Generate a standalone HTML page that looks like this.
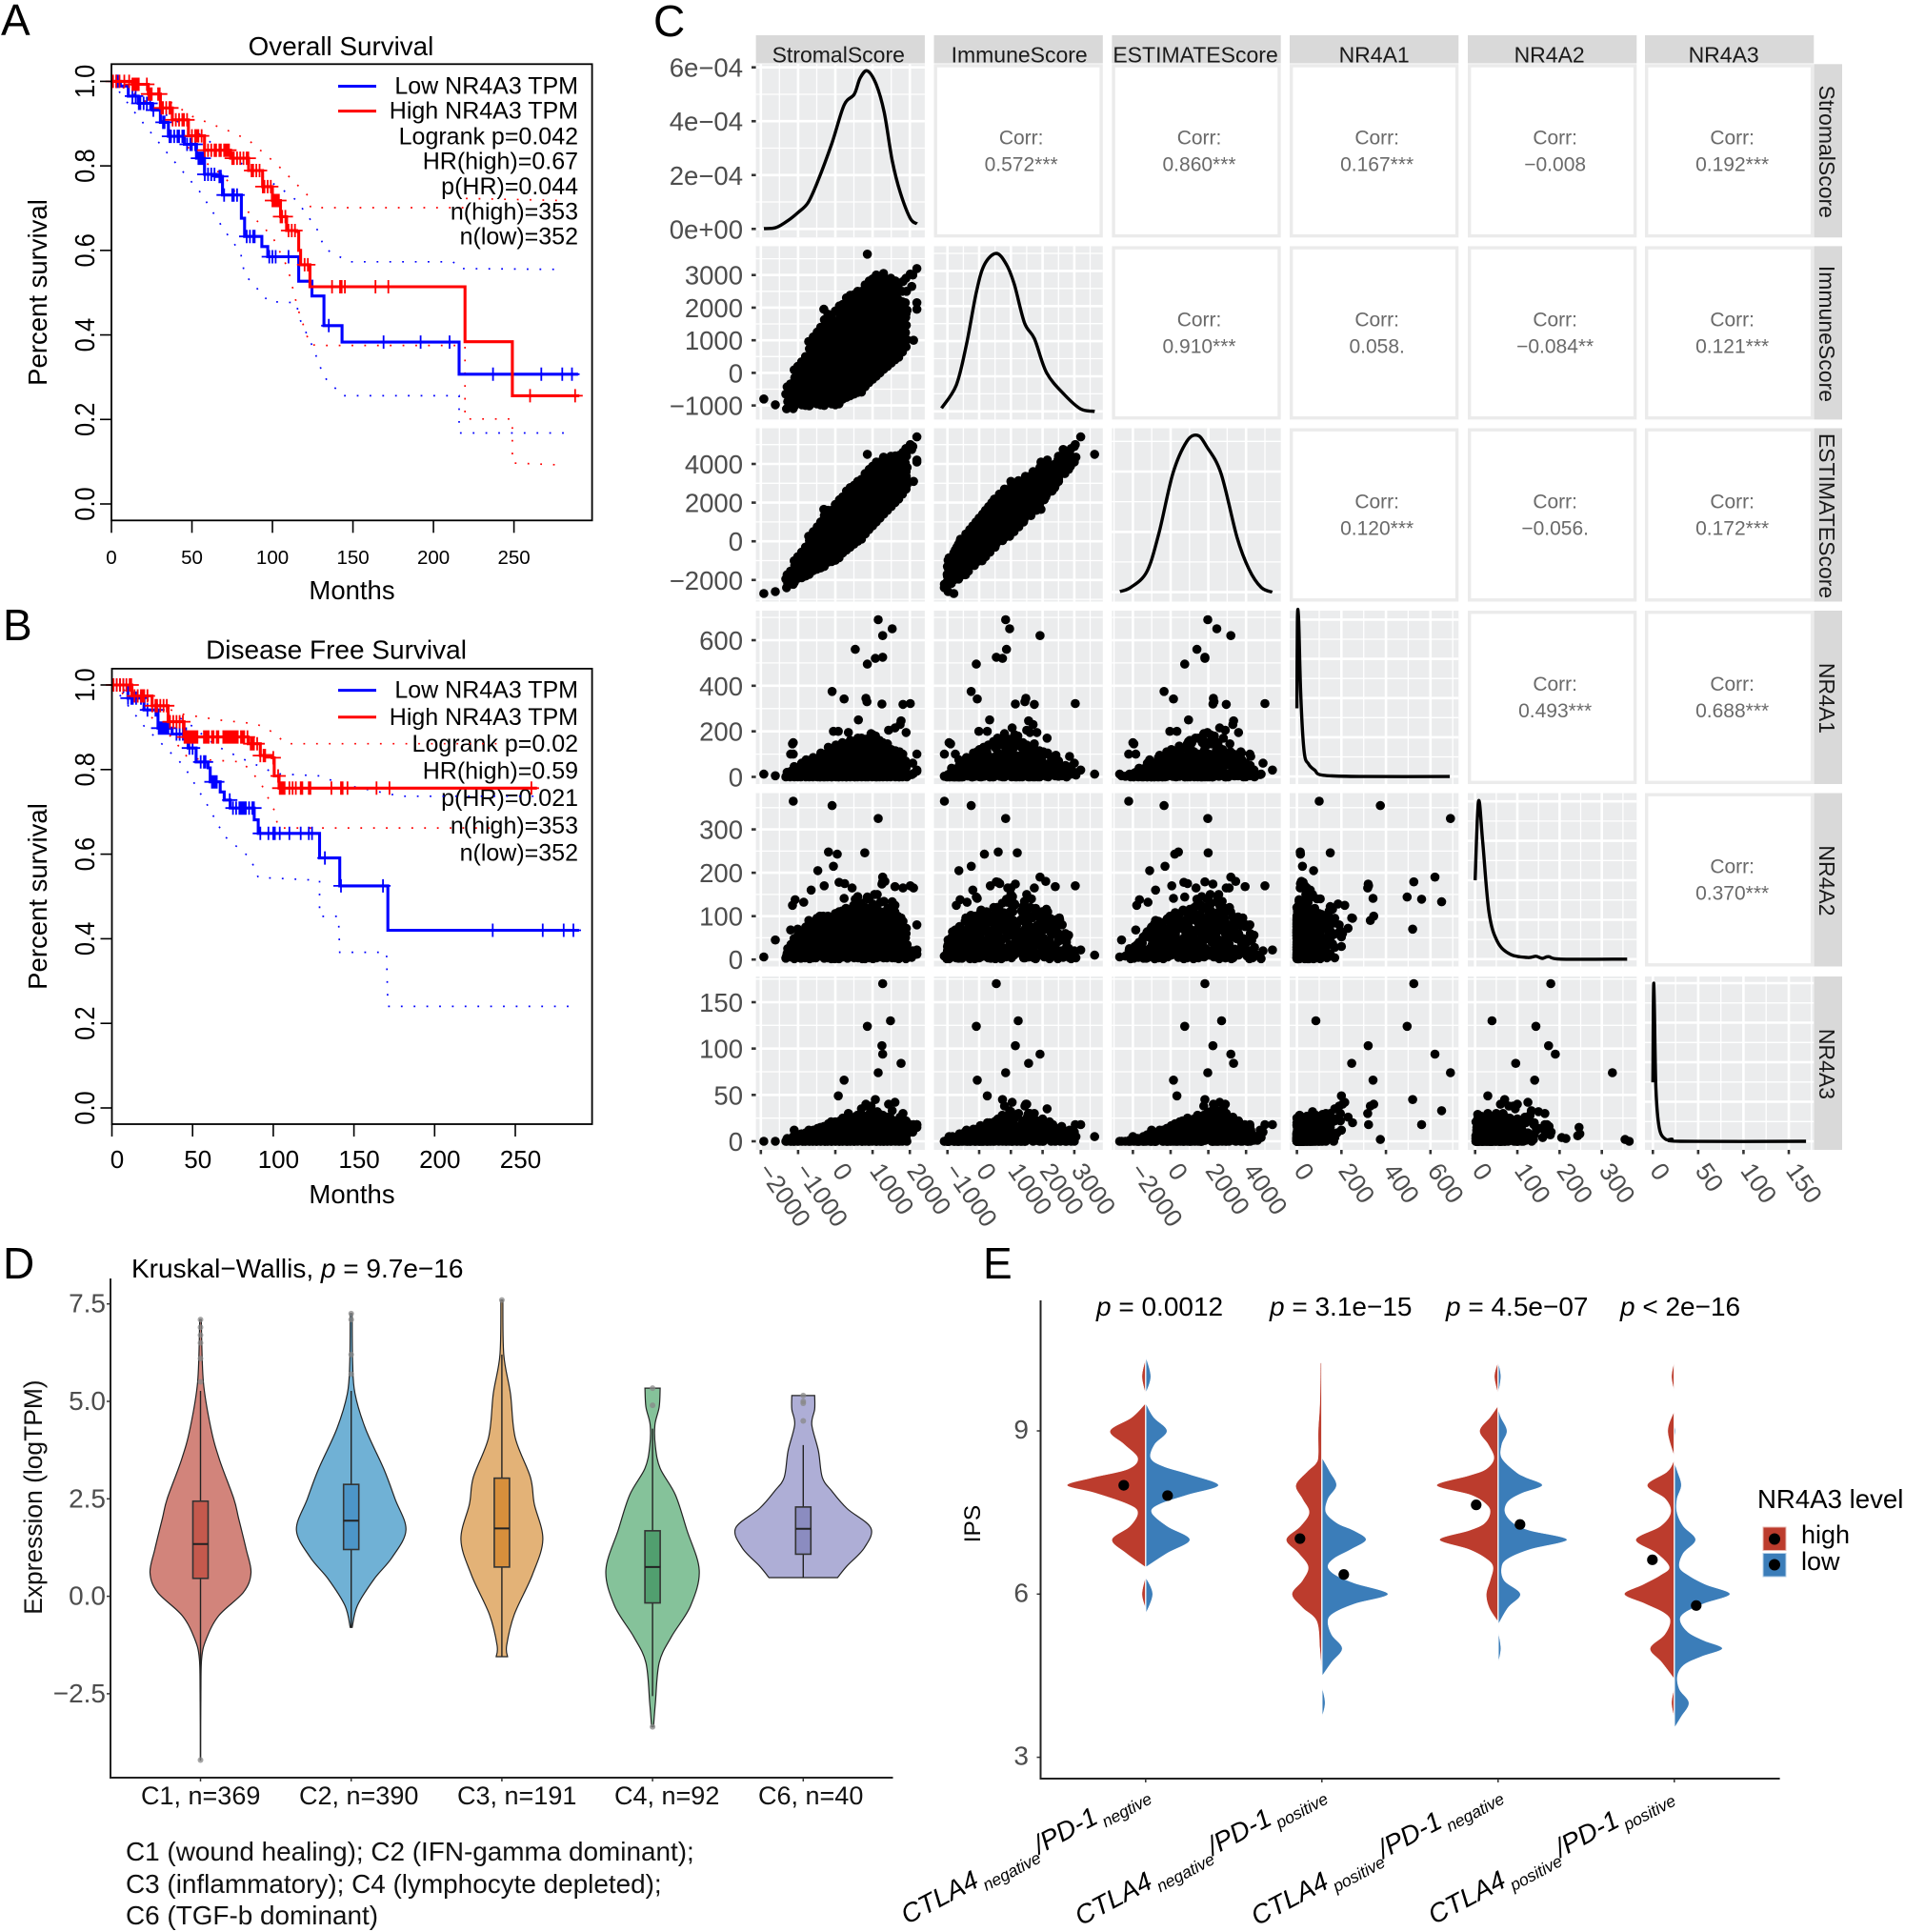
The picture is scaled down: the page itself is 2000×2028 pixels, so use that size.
<!DOCTYPE html>
<html lang="en">
<head>
<meta charset="utf-8">
<title>NR4A3 multi-panel figure</title>
<style>
html,body{margin:0;padding:0;background:#fff;}
svg{display:block;}
text{font-family:"Liberation Sans",sans-serif;}
</style>
</head>
<body>
<svg id="fig" xmlns="http://www.w3.org/2000/svg" width="2000" height="2028" viewBox="0 0 2000 2028">
<rect x="0" y="0" width="2000" height="2028" fill="#fff"/>
<g font-size="46" fill="#000">
<text x="1" y="37">A</text>
<text x="3" y="672">B</text>
<text x="686" y="38">C</text>
<text x="3" y="1342">D</text>
<text x="1032" y="1342">E</text>
</g>

<g id="panelA">
<text x="358" y="58" font-size="27.8" text-anchor="middle">Overall Survival</text>
<text transform="translate(49,307) rotate(-90)" font-size="27.5" text-anchor="middle">Percent survival</text>
<text x="369.5" y="629" font-size="27.5" text-anchor="middle">Months</text>
<g font-size="25" text-anchor="end">
<text x="607" y="98.5">Low NR4A3 TPM</text>
<text x="607" y="124.6">High NR4A3 TPM</text>
<text x="607" y="151.5">Logrank p=0.042</text>
<text x="607" y="177.6">HR(high)=0.67</text>
<text x="607" y="204">p(HR)=0.044</text>
<text x="607" y="230.6">n(high)=353</text>
<text x="607" y="256.7">n(low)=352</text>
</g>
<line x1="355" x2="395" y1="90.5" y2="90.5" stroke="#0000ff" stroke-width="3"/>
<line x1="355" x2="395" y1="116.6" y2="116.6" stroke="#ff0000" stroke-width="3"/>
</g>

<g id="panelB">
<text x="353" y="691.5" font-size="28" text-anchor="middle">Disease Free Survival</text>
<text transform="translate(49,941) rotate(-90)" font-size="27.5" text-anchor="middle">Percent survival</text>
<text x="369.5" y="1263" font-size="27.5" text-anchor="middle">Months</text>
<g font-size="25" text-anchor="end">
<text x="607" y="732.6">Low NR4A3 TPM</text>
<text x="607" y="760.8">High NR4A3 TPM</text>
<text x="607" y="789">Logrank p=0.02</text>
<text x="607" y="817.6">HR(high)=0.59</text>
<text x="607" y="846">p(HR)=0.021</text>
<text x="607" y="875">n(high)=353</text>
<text x="607" y="903.5">n(low)=352</text>
</g>
<line x1="355" x2="395" y1="724.6" y2="724.6" stroke="#0000ff" stroke-width="3"/>
<line x1="355" x2="395" y1="752.8" y2="752.8" stroke="#ff0000" stroke-width="3"/>
</g>

<g id="panelC"></g>

<g id="panelD">
<text x="138" y="1341" font-size="28">Kruskal−Wallis, <tspan font-style="italic">p</tspan> = 9.7e−16</text>
<text transform="translate(44,1571.6) rotate(-90)" font-size="26.4" text-anchor="middle" fill="#111">Expression (logTPM)</text>
<g font-size="27" fill="#111">
<text x="148" y="1894">C1, n=369</text>
<text x="314" y="1894">C2, n=390</text>
<text x="480" y="1894">C3, n=191</text>
<text x="645" y="1894">C4, n=92</text>
<text x="796" y="1894">C6, n=40</text>
</g>
<g font-size="27.9" fill="#111">
<text x="132" y="1953">C1 (wound healing); C2 (IFN-gamma dominant);</text>
<text x="132" y="1987">C3 (inflammatory); C4 (lymphocyte depleted);</text>
<text x="132" y="2020">C6 (TGF-b dominant)</text>
</g>
</g>

<g id="panelE">
<g font-size="28" fill="#000">
<text x="1151" y="1381"><tspan font-style="italic">p</tspan> = 0.0012</text>
<text x="1333" y="1381"><tspan font-style="italic">p</tspan> = 3.1e−15</text>
<text x="1518" y="1381"><tspan font-style="italic">p</tspan> = 4.5e−07</text>
<text x="1701" y="1381"><tspan font-style="italic">p</tspan> &lt; 2e−16</text>
</g>
<text transform="translate(1029,1599.5) rotate(-90)" font-size="24.5" text-anchor="middle">IPS</text>
<g font-size="28" font-style="italic" text-anchor="end" fill="#000">
<text transform="translate(1207,1885) rotate(-28)">CTLA4<tspan font-size="17.5" dy="8" dx="3">negative</tspan><tspan dy="-8" dx="1">/PD-1</tspan><tspan font-size="17.5" dy="8" dx="3">negtive</tspan></text>
<text transform="translate(1392,1885) rotate(-28)">CTLA4<tspan font-size="17.5" dy="8" dx="3">negative</tspan><tspan dy="-8" dx="1">/PD-1</tspan><tspan font-size="17.5" dy="8" dx="3">positive</tspan></text>
<text transform="translate(1577,1885) rotate(-28)">CTLA4<tspan font-size="17.5" dy="8" dx="3">positive</tspan><tspan dy="-8" dx="1">/PD-1</tspan><tspan font-size="17.5" dy="8" dx="3">negative</tspan></text>
<text transform="translate(1757,1887) rotate(-28)">CTLA4<tspan font-size="17.5" dy="8" dx="3">positive</tspan><tspan dy="-8" dx="1">/PD-1</tspan><tspan font-size="17.5" dy="8" dx="3">positive</tspan></text>
</g>
<text x="1845" y="1583" font-size="27.6">NR4A3 level</text>
<rect x="1851" y="1603" width="24" height="24.5" fill="#bc3c2d" stroke="#e8b9b2" stroke-width="1"/>
<circle cx="1863" cy="1615.5" r="6" fill="#000"/>
<rect x="1851" y="1630.5" width="24" height="24.5" fill="#3b7db9" stroke="#b5d0e8" stroke-width="1"/>
<circle cx="1863" cy="1642.5" r="6" fill="#000"/>
<text x="1891" y="1620" font-size="27">high</text>
<text x="1891" y="1648" font-size="27">low</text>
</g>
</svg>

<script>
/* ---------- Panel A: overall survival ---------- */
const osLowT = [0,5.5,10.5,16.7,25.4,30.4,35.4,45.3,52.8,57.8,65.2,69,79.4,80.7,82.7,92.6,93.4,97.1,114.5,116.3,124.5,132,143.2,215.9,289.8];
const osLowS = [1,.989,.965,.948,.932,.903,.87,.851,.818,.78,.775,.731,.731,.676,.633,.633,.609,.585,.585,.527,.492,.422,.383,.307,.307];
const osHighT = [0,12.9,22.9,30.4,37.8,47.8,57.8,74,85.2,93.9,100,105,108.8,115,116.3,117.5,123.3,219.6,249,290.6];
const osHighS = [1,.993,.97,.937,.909,.871,.837,.818,.789,.751,.718,.68,.647,.645,.6,.566,.514,.384,.256,.256];
const osHighUpT = [0,25.4,50.3,74,85.2,102.6,122.5,123.7,219.6,220,280.6];
const osHighUpS = [1,.979,.917,.881,.861,.804,.728,.701,.701,.723,.718];
const osHighLoT = [0,17.9,37.8,55.3,70.2,85.2,100,109.6,115.8,123.3,129.5,219.6,219.6,249,249,280.6];
const osHighLoS = [1,.965,.878,.817,.775,.69,.633,.557,.462,.377,.375,.375,.201,.201,.097,.092];
const osLowUpT = [0,10.5,35.4,52.8,70.2,85.2,105.1,115,127.5,132.5,147.4,212.2,215.9,280.6];
const osLowUpS = [1,.979,.917,.88,.832,.794,.747,.718,.652,.604,.573,.573,.557,.555];
const osLowLoT = [0,15.4,35.4,55.3,70.2,80.2,82.7,97.6,115,116.3,125,132,143.7,215.9,215.9,284.4];
const osLowLoS = [1,.922,.827,.737,.647,.595,.543,.479,.476,.443,.372,.301,.256,.256,.168,.168];
const osLowCensor = [3,4,13,15,17,18,20,22,24,26,32,33,36,37,39,41,42,44,45,47,49,50,52,54,55,56,57,58,60,62,64,67,68,70,75,76,78,84,86,88,89,98,100,102,110,135,169,192,210,237,267,280,286];
const osHighCensor = [1,3,5,8,11,13,14,15,16,17,22,23,24,25,29,30,31,32,34,36,37,38,40,42,44,45,47,50,52,53,54,56,58,60,62,64,65,67,68,70,71,72,73,75,76,78,80,82,84,85,87,88,90,92,94,95,97,99,100,101,102,103,104,105,106,108,110,112,114,120,122,137,142,143,145,164,172,260,288];

/* ---------- Panel B: disease free survival ---------- */
const dfsLowT = [0,9.9,19.9,28.6,37.3,47.2,52.2,59.6,60.9,67.1,69.6,73.3,88.2,90.7,128.7,141.2,171,289.5];
const dfsLowS = [1,.969,.941,.898,.884,.851,.818,.804,.771,.747,.728,.709,.681,.649,.591,.525,.42,.42];
const dfsHighT = [0,12.4,24.9,34.8,44.7,84.5,92,99.4,100.6,103.6,263.4];
const dfsHighS = [1,.974,.951,.913,.877,.861,.833,.828,.785,.756,.756];
const dfsHighUpT = [0,24.9,42.2,67.1,89.5,99.4,108.1,238.6];
const dfsHighUpS = [1,.96,.932,.917,.908,.889,.861,.861];
const dfsHighLoT = [0,22.4,37.3,47.2,59.6,80.8,91.9,100.6,103.1,238.6];
const dfsHighLoS = [1,.932,.875,.827,.823,.818,.771,.704,.662,.662];
const dfsLowUpT = [0,22.4,44.7,64.6,79.5,101.9,129.2,141.6,178.9,263.4];
const dfsLowUpS = [1,.946,.918,.856,.828,.79,.785,.766,.737,.737];
const dfsLowLoT = [0,19.9,44.7,59.6,69.6,85.7,90.7,128.7,128.7,140.4,141.2,170.2,171,285.8];
const dfsLowLoS = [1,.903,.808,.713,.643,.591,.545,.538,.453,.453,.368,.368,.24,.24];
const dfsLowCensor = [3,5,7,10,12,13,15,18,22,27,28,29,30,31,32,33,34,35,40,42,44,46,48,50,55,57,58,62,63,64,65,73,75,77,79,80,81,82,83,85,87,88,92,97,100,101,104,110,117,122,124,132,142,168,236,267,280,286];
const dfsHighCensor = [1,3,5,7,9,11,12,14,16,18,19,20,22,25,27,28,30,32,34,36,38,40,42,44,45,46,47,48,49,50,51,52,53,57,58,59,60,62,63,65,66,69,70,71,72,73,74,75,76,77,78,80,81,82,84,86,87,88,90,92,94,95,100,103,104,105,106,107,110,112,114,117,118,122,123,136,142,143,146,164,172,260];
const kmMonthTicks = [0,50,100,150,200,250];
const kmSurvivalTicks = [0,.2,.4,.6,.8,1];

/* ---------- Panel C: shared samples (outliers first, then the dense cloud) ---------- */
const stromal = [-1920,-1610,1150,1527,1270,535,1270,1075,860,-87,235,820,850,1250,1817,2013,-1130,-185,50,790,-50,-470,1480,1765,80,-50,620,1740,1900,-1130,-1150,-1200,350,700,960,1430,1600,2100,2190,2190,2080,2050,2190,860,-1150,-1080,-850,-650,-300,100,250,450,600,850,1050,1330,1600,
-1310,-1280,-1330,-1295,
-1100,-1120,-1085,-1110,-1090,-1105,
-900,-880,-925,-890,-910,-875,-905,
-700,-720,-680,-705,-690,-730,-675,-710,-695,-715,
-500,-520,-480,-505,-490,-530,-475,-510,-495,-515,-485,
-300,-280,-320,-295,-310,-275,-305,-325,-290,-300,-285,-315,-295,-310,
-100,-120,-85,-110,-90,-125,-80,-105,-95,-115,-85,-110,-100,
100,85,120,95,110,80,105,125,90,100,115,85,105,95,110,
300,320,285,305,290,325,280,310,295,315,285,305,290,320,300,
500,480,520,495,510,475,505,525,490,500,515,485,505,495,510,
700,720,685,705,690,725,680,710,695,715,685,705,690,720,700,
900,880,920,895,910,875,905,925,890,900,915,885,905,895,910,
1100,1120,1085,1105,1090,1125,1080,1110,1095,1115,1085,1105,1090,1120,1100,
1300,1280,1320,1295,1310,1275,1305,1325,1290,1300,1315,1285,1305,1295,
1500,1520,1485,1505,1490,1525,1480,1510,1495,1515,1485,1505,1490,
1700,1680,1720,1695,1710,1675,1705,1725,1690,1700,1715,
1900,1920,1885,1905,1890,1925,1880,1910,1895,
-1200,-1215,-1190,-1205,
-1000,-1015,-990,-1005,-995,-1010,
-800,-810,-790,-805,-795,-815,-785,-800,
-600,-610,-590,-605,-595,-615,-585,-600,-610,-590,
-400,-415,-390,-405,-395,-410,-385,-400,-415,-390,-405,-395,
-200,-210,-190,-205,-195,-215,-185,-200,-210,-190,-205,-195,-200,
0,-10,15,-5,10,-15,5,0,-10,15,-5,10,-15,0,
200,190,215,195,210,185,205,200,190,215,195,210,185,200,
400,390,415,395,410,385,405,400,390,415,395,410,385,405,400,
600,590,615,595,610,585,605,600,590,615,595,610,585,605,600,
800,790,815,795,810,785,805,800,790,815,795,810,785,805,800,
1000,990,1015,995,1010,985,1005,1000,990,1015,995,1010,985,1005,1000,
1200,1190,1215,1195,1210,1185,1205,1200,1190,1215,1195,1210,1185,1200,
1400,1390,1415,1395,1410,1385,1405,1400,1390,1415,1395,1410,1385,
1600,1590,1615,1595,1610,1585,1605,1600,1590,1615,1595,1610,
1800,1790,1815,1795,1810,1785,1805,1800,1790,1815];
const immune = [-800,-980,835,960,1920,862,541,736,-90,-252,-60,1470,1440,1140,1740,3030,-1096,600,165,1200,-250,-640,1230,1560,255,-10,330,1700,1820,-950,-900,-750,1600,2140,800,1500,1040,1000,2150,1950,3000,2650,3200,3640,-720,-600,-380,-200,350,600,650,900,1050,1650,1500,2100,2400,
-1100,-880,-650,-430,
-1020,-800,-590,-370,-150,90,
-980,-760,-540,-320,-100,120,340,
-1010,-800,-580,-360,-140,80,300,520,740,960,
-950,-730,-510,-290,-70,150,370,590,810,1030,1250,
-1000,-790,-570,-350,-130,90,310,530,750,970,1190,1410,1630,1950,
-950,-730,-510,-290,-70,150,370,590,810,1030,1250,1470,1700,
-950,-790,-570,-350,-130,90,310,530,750,970,1190,1410,1630,1850,2050,
-750,-510,-290,-70,150,370,590,810,1030,1250,1470,1690,1910,2130,2300,
-650,-430,-210,10,230,450,670,890,1110,1330,1550,1770,1990,2210,2400,
-590,-370,-150,70,290,510,730,950,1170,1390,1610,1830,2050,2270,2500,
-300,-80,140,360,580,800,1020,1240,1460,1680,1900,2120,2340,2560,2820,
-100,120,340,560,780,1000,1220,1440,1660,1880,2100,2320,2540,2760,3000,
110,330,550,770,990,1210,1430,1650,1870,2090,2310,2530,2750,3050,
300,520,740,960,1180,1400,1620,1840,2060,2280,2500,2720,2900,
480,700,920,1140,1360,1580,1800,2020,2240,2480,2750,
800,1020,1240,1460,1700,1920,2150,2500,2900,
-1000,-780,-560,-340,
-900,-680,-460,-240,-20,200,
-1000,-870,-650,-430,-210,10,230,500,
-920,-700,-480,-260,-40,180,400,620,840,1100,
-980,-840,-620,-400,-180,40,260,480,700,920,1140,1400,
-880,-660,-440,-220,0,220,440,660,880,1100,1320,1540,1800,
-980,-840,-620,-400,-180,40,260,480,700,920,1140,1360,1580,1900,
-800,-620,-400,-180,40,260,480,700,920,1140,1360,1580,1800,2100,
-700,-480,-260,-40,180,400,620,840,1060,1280,1500,1720,1940,2160,2380,
-600,-380,-160,60,280,500,720,940,1160,1380,1600,1820,2040,2260,2500,
-420,-200,20,240,460,680,900,1120,1340,1560,1780,2000,2220,2440,2700,
-200,20,240,460,680,900,1120,1340,1560,1780,2000,2220,2440,2660,2880,
0,220,440,660,880,1100,1320,1540,1760,1980,2200,2420,2640,2900,
200,420,640,860,1080,1300,1520,1740,1960,2180,2400,2620,2850,
400,620,840,1060,1280,1500,1720,1940,2160,2380,2600,2820,
640,860,1080,1300,1520,1740,1960,2180,2500,2800];
const estimate = [-2700,-2600,1970,2450,3190,1394,1820,1820,750,-350,150,2270,2300,2240,2950,5000,-2220,415,215,1990,-300,-1110,2700,3340,335,-40,950,3300,3600,-2000,-1950,-1850,1950,2800,1760,2900,2600,3100,4200,4100,4900,4750,5400,4500,-1800,-1650,-1200,-800,60,700,900,1350,1650,2500,2550,3450,3950,
-2400,-2180,-1950,-1730,
-2120,-1900,-1690,-1470,-1250,-1010,
-1880,-1660,-1440,-1220,-1000,-780,-560,
-1710,-1500,-1280,-1060,-840,-620,-400,-180,40,260,
-1450,-1230,-1010,-790,-570,-350,-130,90,310,530,750,
-1300,-1090,-870,-650,-430,-210,10,230,450,670,890,1110,1330,1650,
-1050,-830,-610,-390,-170,50,270,490,710,930,1150,1370,1600,
-850,-690,-470,-250,-30,190,410,630,850,1070,1290,1510,1730,1950,2150,
-450,-210,10,230,450,670,890,1110,1330,1550,1770,1990,2210,2430,2600,
-150,70,290,510,730,950,1170,1390,1610,1830,2050,2270,2490,2710,2900,
110,330,550,770,990,1210,1430,1650,1870,2090,2310,2530,2750,2970,3200,
600,820,1040,1260,1480,1700,1920,2140,2360,2580,2800,3020,3240,3460,3720,
1000,1220,1440,1660,1880,2100,2320,2540,2760,2980,3200,3420,3640,3860,4100,
1410,1630,1850,2070,2290,2510,2730,2950,3170,3390,3610,3830,4050,4350,
1800,2020,2240,2460,2680,2900,3120,3340,3560,3780,4000,4220,4400,
2180,2400,2620,2840,3060,3280,3500,3720,3940,4180,4450,
2700,2920,3140,3360,3600,3820,4050,4400,4800,
-2200,-1980,-1760,-1540,
-1900,-1680,-1460,-1240,-1020,-800,
-1800,-1670,-1450,-1230,-1010,-790,-570,-300,
-1520,-1300,-1080,-860,-640,-420,-200,20,240,500,
-1380,-1240,-1020,-800,-580,-360,-140,80,300,520,740,1000,
-1080,-860,-640,-420,-200,20,240,460,680,900,1120,1340,1600,
-980,-840,-620,-400,-180,40,260,480,700,920,1140,1360,1580,1900,
-600,-420,-200,20,240,460,680,900,1120,1340,1560,1780,2000,2300,
-300,-80,140,360,580,800,1020,1240,1460,1680,1900,2120,2340,2560,2780,
0,220,440,660,880,1100,1320,1540,1760,1980,2200,2420,2640,2860,3100,
380,600,820,1040,1260,1480,1700,1920,2140,2360,2580,2800,3020,3240,3500,
800,1020,1240,1460,1680,1900,2120,2340,2560,2780,3000,3220,3440,3660,3880,
1200,1420,1640,1860,2080,2300,2520,2740,2960,3180,3400,3620,3840,4100,
1600,1820,2040,2260,2480,2700,2920,3140,3360,3580,3800,4020,4250,
2000,2220,2440,2660,2880,3100,3320,3540,3760,3980,4200,4420,
2440,2660,2880,3100,3320,3540,3760,3980,4300,4600];
const nr4a1 = [12,5,690,650,620,560,525,520,495,375,342,345,330,320,318,322,100,15,16,150,25,75,85,246,200,200,250,230,195,150,145,100,195,170,190,205,215,15,100,25,60,10,30,12,8,10,30,60,35,28,16,45,70,105,40,20,35,
3,12,0,20,
0,18,6,35,2,45,
4,30,0,14,48,8,60,
0,22,9,40,3,65,15,28,5,50,
2,25,0,48,12,80,5,35,60,20,8,
6,30,0,55,18,2,90,40,10,70,0,25,45,5,
0,35,12,75,4,100,28,50,8,120,18,62,0,
5,0,40,15,95,2,60,125,30,8,85,20,48,0,35,
0,45,10,110,3,70,145,25,6,90,35,55,0,30,12,
8,60,0,120,22,155,5,85,40,130,0,65,18,38,4,
2,32,95,0,140,55,12,165,75,20,3,110,42,60,8,
50,5,130,25,170,0,90,150,10,70,115,2,45,30,15,
12,100,0,155,40,70,180,4,120,60,18,85,30,0,20,
70,0,135,30,95,150,10,55,110,4,75,22,40,8,
15,90,0,120,45,65,5,100,30,75,10,50,20,
5,60,25,95,0,70,35,110,10,48,0,
40,0,70,15,55,8,28,3,12,
8,0,25,4,
15,2,28,0,40,10,
5,38,12,60,0,22,75,18,
0,15,45,8,85,30,2,58,20,70,
10,0,52,26,95,5,68,38,14,105,0,48,
22,0,70,40,110,12,85,3,55,130,28,95,8,
3,28,0,85,50,120,15,72,35,140,5,100,60,18,
20,0,65,105,38,135,8,90,150,48,25,115,4,55,
0,35,80,14,125,55,160,6,100,42,140,22,75,3,30,
40,4,100,18,135,60,170,28,85,150,0,115,50,12,70,
10,65,28,125,0,90,165,45,145,15,105,58,8,78,34,
60,0,110,32,150,75,185,14,130,48,95,6,70,22,40,
5,85,25,140,50,160,12,115,0,70,35,95,18,45,
30,0,100,55,130,15,80,145,40,5,65,25,90,
75,10,115,38,0,90,52,22,105,60,5,30,
25,80,5,60,100,15,45,0,35,10];
const nr4a2 = [6,45,325,133,190,139,179,70,144,355,141,100,90,174,165,170,365,248,243,246,215,205,40,96,30,52,95,72,60,12,8,68,66,95,80,60,125,165,80,12,20,5,22,10,125,138,132,160,170,178,175,165,145,140,150,180,168,
8,25,3,14,
2,30,12,48,6,22,
10,40,3,62,20,28,8,
5,38,14,70,2,45,24,90,10,55,
16,4,50,28,78,8,60,35,95,18,42,
3,26,60,12,85,40,22,100,6,72,34,52,16,90,
8,44,18,2,66,30,92,12,50,80,25,5,62,
2,30,58,14,100,46,5,76,24,110,38,88,10,54,20,
40,9,74,22,105,3,60,92,32,16,118,48,70,8,28,
6,52,84,18,110,36,4,66,125,26,96,12,78,44,20,
30,70,10,90,48,2,130,58,20,104,76,34,6,60,16,
12,64,100,28,4,82,140,50,18,96,38,116,8,56,26,
42,8,86,120,24,150,60,4,100,36,70,14,90,48,10,
20,92,50,108,6,66,134,30,80,12,58,96,40,4,
64,10,100,34,78,4,120,52,20,86,42,60,8,
40,6,88,24,62,100,14,50,76,2,28,
24,4,50,72,10,34,8,18,2,
20,6,35,12,
5,36,16,55,24,70,
30,8,52,18,75,4,40,62,
12,58,26,82,4,44,66,18,86,34,
22,64,8,90,36,72,14,54,100,28,80,44,
50,16,88,4,68,34,98,24,78,10,58,42,100,
34,10,76,48,94,20,62,106,2,84,40,28,96,72,
8,56,30,84,108,16,70,44,96,22,64,6,112,38,
62,24,102,12,80,46,116,6,72,36,92,18,54,110,30,
18,86,42,114,4,68,28,104,54,122,10,78,34,94,60,
96,26,60,8,120,44,84,14,112,70,2,100,38,76,48,
20,66,104,40,86,12,128,58,30,118,74,2,92,50,16,
56,100,14,76,132,36,92,6,68,110,24,84,46,10,
74,22,106,8,90,42,118,60,18,98,32,80,4,
12,82,50,110,28,68,4,94,38,76,20,56,
66,16,88,36,6,58,78,24,44,10];
const nr4a3 = [0,0,74,33,94,18,170,45,124,2,66,40,38,103,30,18,0,8,6,15,3,4,130,84,49,12,20,26,22,5,4,2,30,35,38,40,42,18,18,15,10,12,18,5,3,2,1,4,9,7,16,11,12,20,14,10,8,
0,1,0,3,
0,2,1,0,5,12,
1,0,4,2,8,0,6,
0,3,1,6,0,9,2,12,4,1,
0,4,1,0,7,2,14,3,10,0,5,
1,0,6,3,11,0,16,5,2,9,0,7,3,12,
0,2,8,0,13,4,18,1,6,21,3,10,0,
0,4,1,10,0,15,6,22,2,12,0,18,8,3,5,
1,0,9,3,16,0,24,7,2,13,5,19,0,10,4,
0,6,2,14,0,20,4,26,9,1,17,6,0,11,3,
3,0,10,1,18,6,28,0,13,22,2,8,15,0,5,
1,9,0,16,4,25,7,30,0,12,20,3,10,0,6,
0,12,5,20,2,32,9,0,24,14,4,18,1,8,0,
8,0,22,3,15,28,0,11,18,6,2,14,0,5,
2,14,0,20,6,12,25,1,16,3,9,0,5,
0,8,15,2,20,4,12,0,18,6,3,
5,0,12,18,3,8,14,1,4,
0,2,0,1,
1,0,3,7,0,2,
0,2,5,1,9,0,4,7,
2,0,6,1,10,3,12,0,5,8,
0,3,8,1,12,5,0,15,2,9,4,11,
4,0,10,2,14,6,19,1,8,16,0,12,5,
0,5,2,12,7,17,0,21,3,10,14,1,6,9,
2,0,7,13,4,20,1,25,9,16,0,11,6,3,
1,6,0,11,3,18,8,24,0,14,5,20,2,9,12,
5,1,8,0,15,3,22,10,28,6,18,1,13,4,9,
0,7,3,13,1,20,6,27,11,17,2,24,5,14,8,
4,0,12,6,18,2,25,9,30,1,16,21,7,3,11,
1,10,0,17,5,24,2,29,8,13,20,3,6,0,
6,1,14,0,20,9,26,3,16,11,0,7,12,
3,11,0,18,7,22,1,14,5,9,16,2,
9,2,15,0,20,6,12,3,8,1];

/* density curves on the diagonal */
const stromalDensX = [-1918,-1593,-1271,-1003,-731,-463,-87,235,506,665,859,1097,1312,1527,1744,2013,2194];
const stromalDensY = [.01,.05,.31,.61,.98,1.8,3.2,4.6,5,5.6,5.87,5.37,4.33,2.54,1.35,.39,.19];
const immuneDensX = [-1186,-721,-402,-90,165,541,862,1111,1429,1742,2126,2694,3198,3643];
const immuneDensY = [.09,.75,1.9,3.39,4.18,4.5,4.18,3.61,2.52,2.07,1.1,.47,.07,0];
const estimateDensX = [-2687,-2111,-1263,-626,121,859,1434,1919,2672,3520,4157,4798,5389];
const estimateDensY = [.01,.08,.34,.97,1.97,2.5,2.6,2.41,1.97,.91,.38,.08,0];
const nr4a1DensX = [0,2,7.7,17,32.5,52,80.5,118.6,310,687];
const nr4a1DensY = [.435,1,1,.527,.158,.08,.04,.008,0,0];
const nr4a2DensX = [0,8,18,33,53,83.5,124,144,159,174,204,360];
const nr4a2DensY = [.5,1,.74,.295,.11,.03,.01,.018,.005,.016,0,0];
const nr4a3DensX = [0,1,3.3,7,14,21,30.5,169];
const nr4a3DensY = [.373,1,.346,.085,.013,.013,0,0];

const varNames = ['StromalScore','ImmuneScore','ESTIMATEScore','NR4A1','NR4A2','NR4A3'];
const stromalTicks = [-2000,-1000,0,1000,2000];
const immuneXTicks = [-1000,0,1000,2000,3000];
const immuneYTicks = [-1000,0,1000,2000,3000];
const estimateXTicks = [-2000,0,2000,4000];
const estimateYTicks = [-2000,0,2000,4000];
const nr4a1Ticks = [0,200,400,600];
const nr4a2Ticks = [0,100,200,300];
const nr4a3Ticks = [0,50,100,150];
const densityTicks = [0,2,4,6];
const densityTickLabels = ['0e+00','2e−04','4e−04','6e−04'];
const corrRow1 = [null,'0.572***','0.860***','0.167***','−0.008','0.192***'];
const corrRow2 = [null,null,'0.910***','0.058.','−0.084**','0.121***'];
const corrRow3 = [null,null,null,'0.120***','−0.056.','0.172***'];
const corrRow4 = [null,null,null,null,'0.493***','0.688***'];
const corrRow5 = [null,null,null,null,null,'0.370***'];

/* ---------- Panel D: violins (value, half width) ---------- */
const subtypeNames = ['c1','c2','c3','c4','c6'];
const c1Values = [7.1,5.5,4.3,3.5,2.5,2,1.2,.6,.1,-.5,-1.1,-1.6,-2.5,-4.2];
const c1Density = [.8,3,11,20,35,40,48,53,45,19,6,1.2,.4,.2];
const c2Values = [7.25,6,5.2,4.3,3.28,2.5,1.7,1,.44,-.24,-.8];
const c2Density = [1,1.5,4,15,34,46,57.5,43,24,6.5,1];
const c3Values = [7.6,6.2,5.2,4.07,3.05,2.37,1.46,.55,-.47,-1.26,-1.55];
const c3Density = [1,2,9,14,30,34,43,32,13,5,6];
const c4Values = [5.34,4.86,4.4,3.84,3.28,2.6,1.7,.67,-.24,-1.03,-1.7,-2.73,-3.35];
const c4Density = [8,7,2.5,3,8,24,36,49,40,20,7,3,1];
const c6Values = [5.15,4.8,4.4,3.72,3.05,2.7,2.25,1.75,1.24,.78,.48];
const c6Density = [12,12,9,16,20,30,46,71,64,46,36];
const boxQ1 = [.46,1.2,.75,-.17,1.08];
const boxMedian = [1.34,1.94,1.74,.75,1.73];
const boxQ3 = [2.44,2.87,3.03,1.68,2.29];
const whiskerLow = [-2.7,-.8,-1.55,-2.56,.48];
const whiskerHigh = [5.27,5.27,6.2,4.3,3.88];
const c1Outliers = [7.1,6.9,6.7,6.5,6.1,5.5,-4.2];
const c2Outliers = [7.25,7.1,6.2,5.7];
const c3Outliers = [7.6];
const c4Outliers = [5.34,4.9,-3.35];
const c6Outliers = [5.15,5,4.95,4.5];
const expressionTicks = [-2.5,0,2.5,5,7.5];
const expressionTickLabels = ['−2.5','0.0','2.5','5.0','7.5'];

/* ---------- Panel E: split violins (islands of value / half width) ---------- */
const g1High = [
 {v:[10.3,10,9.7],d:[0,3.5,0]},
 {v:[9.5,9.25,9,8.75,8.5,8.3,8.14,8,7.86,7.65,7.5,7.25,7,6.75,6.5],d:[0,14,37,22,8,18,56,82,53,18,8,16,35,20,0]},
 {v:[6.3,6,5.75],d:[0,3.5,0]}];
const g1Low = [
 {v:[10.35,10,9.7],d:[0,5,0]},
 {v:[9.5,9.25,9,8.75,8.5,8.35,8.2,8,7.82,7.65,7.5,7.25,7,6.75,6.5],d:[0,8,22,9,5,18,46,76,43,14,6,22,46,22,0]},
 {v:[6.3,6,5.65],d:[0,7,0]}];
const g2High = [
 {v:[10.25,9.5,9,8.55,8.4,8.25,8,7.75,7.5,7.25,7,6.75,6.5,6.25,6,5.75,5.5,5,4.6],d:[1,1.8,3.5,3.5,6,15,27,20,13,22,37,24,14,20,31,20,5,1.8,0]}];
const g2Low = [
 {v:[8.5,8.25,8,7.75,7.5,7.3,7.17,7,6.82,6.65,6.5,6.35,6.2,6,5.82,5.65,5.5,5.25,5,4.75,4.5],d:[0,8,15,6,4,16,33,46,30,12,6,14,34,69,34,12,6,10,21,10,0]},
 {v:[4.28,4,3.75],d:[0,3,0]}];
const g3High = [
 {v:[10.25,10,9.7],d:[0,3.5,0]},
 {v:[9.45,9.25,9,8.75,8.5,8.3,8.18,8,7.82,7.65,7.5,7.3,7.17,7,6.82,6.65,6.5,6.25,6,5.75,5.5],d:[0,8,19,10,4,12,30,64,28,12,8,14,30,61,30,12,5,8,12,9,0]}];
const g3Low = [
 {v:[10.25,10,9.7],d:[0,2.5,0]},
 {v:[9.4,9.25,9,8.75,8.5,8.25,8.15,8,7.85,7.7,7.5,7.3,7.17,7,6.82,6.65,6.5,6.25,6,5.75,5.45],d:[0,2.5,9,3.5,3.5,18,28,46,24,10,7,16,33,72,33,10,3.5,6,23,10,0]},
 {v:[5.3,5,4.75],d:[0,2.5,0]}];
const g4High = [
 {v:[10.25,10,9.75],d:[0,2.5,0]},
 {v:[9.35,9,8.55],d:[0,6.5,0]},
 {v:[8.45,8.25,8,7.75,7.5,7.25,7,6.75,6.5,6.35,6.18,6,5.82,5.65,5.5,5.25,5,4.75,4.45],d:[0,7,28,9,3.5,14,40,18,5,14,32,52,30,10,4,10,25,13,0]},
 {v:[4.25,4,3.75],d:[0,2.5,0]}];
const g4Low = [
 {v:[9.1,9,8.85],d:[0,1,0]},
 {v:[8.4,8.25,8,7.75,7.5,7.25,7,6.75,6.5,6.35,6.18,6,5.82,5.65,5.5,5.3,5.15,5,4.85,4.7,4.5,4.25,4,3.75,3.55],d:[0,3,7,2.5,2.5,9,22,9,5,14,32,58,30,10,6,14,30,50,28,10,3,5,15,7,0]}];
const ipsMeanHigh = [8,7.02,7.64,6.63];
const ipsMeanLow = [7.81,6.36,7.28,5.79];
const ipsTicks = [3,6,9];

/* ---------- helpers ---------- */
const NS = 'http://www.w3.org/2000/svg';
function add(parent, tag, attrs, name, interactable) {
  const el = document.createElementNS(NS, tag);
  for (const k in attrs) el.setAttribute(k, attrs[k]);
  
  
  parent.appendChild(el);
  return el;
}
function addText(parent, attrs, str, name) {
  const el = add(parent, 'text', attrs, name);
  el.textContent = str;
  return el;
}
function lin(v0, p0, v1, p1) { const m = (p1 - p0) / (v1 - v0); return v => p0 + (v - v0) * m; }
function smooth(pts) {
  let d = 'M' + pts[0][0].toFixed(1) + ' ' + pts[0][1].toFixed(1);
  for (let i = 0; i < pts.length - 1; i++) {
    const p0 = pts[Math.max(i - 1, 0)], p1 = pts[i], p2 = pts[i + 1], p3 = pts[Math.min(i + 2, pts.length - 1)];
    const c1x = p1[0] + (p2[0] - p0[0]) / 6, c1y = p1[1] + (p2[1] - p0[1]) / 6;
    const c2x = p2[0] - (p3[0] - p1[0]) / 6, c2y = p2[1] - (p3[1] - p1[1]) / 6;
    d += 'C' + c1x.toFixed(1) + ' ' + c1y.toFixed(1) + ' ' + c2x.toFixed(1) + ' ' + c2y.toFixed(1) + ' ' + p2[0].toFixed(1) + ' ' + p2[1].toFixed(1);
  }
  return d;
}

/* ---------- KM panels ---------- */
function kmPanel(root, prefix, cfg, low, high) {
  const x = lin(0, cfg.x0, 250, cfg.x250), y = lin(0, cfg.y0, 1, cfg.y1);
  const sAt = (t, ts, ss) => { let s = ss[0]; for (let i = 0; i < ts.length; i++) { if (ts[i] <= t) s = ss[i]; } return s; };
  const ci = (ts, ss, color, name) => {
    const d = ts.map((t, i) => (i ? 'L' : 'M') + x(t).toFixed(1) + ' ' + y(ss[i]).toFixed(1)).join('');
    add(root, 'path', {d: d, fill: 'none', stroke: color, 'stroke-width': 1.7, 'stroke-dasharray': '1.8 11.6'}, name);
  };
  ci(low.upT, low.upS, '#0000ff', prefix + '-low-ci-upper');
  ci(low.loT, low.loS, '#0000ff', prefix + '-low-ci-lower');
  ci(high.upT, high.upS, '#ff0000', prefix + '-high-ci-upper');
  ci(high.loT, high.loS, '#ff0000', prefix + '-high-ci-lower');
  const curve = (ts, ss, color, name) => {
    let d = 'M' + x(ts[0]).toFixed(1) + ' ' + y(ss[0]).toFixed(1);
    ts.forEach((t, i) => { d += 'H' + x(t).toFixed(1) + 'V' + y(ss[i]).toFixed(1); });
    add(root, 'path', {d: d, fill: 'none', stroke: color, 'stroke-width': 3.1}, name);
  };
  const plus = (cs, ts, ss, color, name) => {
    let d = '';
    cs.forEach(t => { const px = x(t), py = y(sAt(t, ts, ss)); d += 'M' + (px - 8).toFixed(1) + ' ' + py.toFixed(1) + 'h16M' + px.toFixed(1) + ' ' + (py - 7).toFixed(1) + 'v14'; });
    add(root, 'path', {d: d, fill: 'none', stroke: color, 'stroke-width': 1.8}, name);
  };
  curve(low.t, low.s, '#0000ff', prefix + '-low-curve');
  plus(low.c, low.t, low.s, '#0000ff', prefix + '-low-censor-marks');
  curve(high.t, high.s, '#ff0000', prefix + '-high-curve');
  plus(high.c, high.t, high.s, '#ff0000', prefix + '-high-censor-marks');
  add(root, 'rect', {x: cfg.left, y: cfg.top, width: cfg.right - cfg.left, height: cfg.bottom - cfg.top, fill: 'none', stroke: '#000', 'stroke-width': 1.8}, prefix + '-plot-box');
  kmMonthTicks.forEach(m => {
    add(root, 'line', {x1: x(m), x2: x(m), y1: cfg.bottom, y2: cfg.bottom + 13, stroke: '#000', 'stroke-width': 1.6}, prefix + '-x-tick');
    addText(root, {x: x(m) + cfg.labelShift, y: cfg.xLabelY, 'font-size': cfg.xLabelSize, 'text-anchor': 'middle'}, String(m), prefix + '-x-tick-label');
  });
  kmSurvivalTicks.forEach(s => {
    add(root, 'line', {x1: cfg.left - 12, x2: cfg.left, y1: y(s), y2: y(s), stroke: '#000', 'stroke-width': 1.6}, prefix + '-y-tick');
    addText(root, {transform: 'translate(99,' + y(s).toFixed(1) + ') rotate(-90) scale(.88,1)', 'font-size': 29, 'text-anchor': 'middle'}, s.toFixed(1), prefix + '-y-tick-label');
  });
}
kmPanel(document.getElementById('panelA'), 'os',
  {x0: 117, x250: 539.6, y0: 529, y1: 85.4, left: 117, right: 621.6, top: 67.3, bottom: 546.3, labelShift: 0, xLabelY: 592, xLabelSize: 20.5},
  {t: osLowT, s: osLowS, c: osLowCensor, upT: osLowUpT, upS: osLowUpS, loT: osLowLoT, loS: osLowLoS},
  {t: osHighT, s: osHighS, c: osHighCensor, upT: osHighUpT, upS: osHighUpS, loT: osHighLoT, loS: osHighLoS});
kmPanel(document.getElementById('panelB'), 'dfs',
  {x0: 117.5, x250: 541, y0: 1163, y1: 719, left: 117.5, right: 621.6, top: 701.9, bottom: 1180, labelShift: 5.5, xLabelY: 1226, xLabelSize: 26},
  {t: dfsLowT, s: dfsLowS, c: dfsLowCensor, upT: dfsLowUpT, upS: dfsLowUpS, loT: dfsLowLoT, loS: dfsLowLoS},
  {t: dfsHighT, s: dfsHighS, c: dfsHighCensor, upT: dfsHighUpT, upS: dfsHighUpS, loT: dfsHighLoT, loS: dfsHighLoS});

/* ---------- Pairs matrix ---------- */
(function () {
  const root = document.getElementById('panelC');
  const colLeft = [793.6, 980.5, 1167.4, 1354, 1541, 1727], colW = 177.3;
  const rowTop = [67.3, 258.4, 449.5, 641, 832.5, 1025], rowH = 182;
  const stripShift = [-2, 1, -1, 0, -3, -6];
  const series = [stromal, immune, estimate, nr4a1, nr4a2, nr4a3];
  const xs = [lin(0, 877, 1000, 916.1), lin(0, 1028, 1000, 1061.3), lin(0, 1229, 2000, 1268.6), lin(0, 1361.6, 600, 1501.8), lin(0, 1548.7, 300, 1681.7), lin(0, 1735.3, 150, 1878)];
  const ys = [null, lin(0, 391.4, 3000, 288.7), lin(0, 568.2, 4000, 487), lin(0, 815.5, 600, 672), lin(0, 1007.2, 300, 870.6), lin(0, 1198, 150, 1052)];
  const xTicks = [stromalTicks, immuneXTicks, estimateXTicks, nr4a1Ticks, nr4a2Ticks, nr4a3Ticks];
  const yTicks = [null, immuneYTicks, estimateYTicks, nr4a1Ticks, nr4a2Ticks, nr4a3Ticks];
  const dens = [
    {x: stromalDensX, y: stromalDensY, f: lin(0, 240.3, 6, 70.7), t: [0, 2, 4, 6]},
    {x: immuneDensX, y: immuneDensY, f: lin(0, 431.8, 4.5, 266), t: [0, 1, 2, 3, 4]},
    {x: estimateDensX, y: estimateDensY, f: lin(0, 621.6, 2.6, 457), t: [0, 1, 2]},
    {x: nr4a1DensX, y: nr4a1DensY, f: lin(0, 815.1, 1, 650.4), t: [0, .25, .5, .75, 1]},
    {x: nr4a2DensX, y: nr4a2DensY, f: lin(0, 1006.8, 1, 841.2), t: [0, .25, .5, .75, 1]},
    {x: nr4a3DensX, y: nr4a3DensY, f: lin(0, 1198, 1, 1032), t: [0, .25, .5, .75, 1]}];
  const corr = [corrRow1, corrRow2, corrRow3, corrRow4, corrRow5];

  function grid(g, c, r, xT, xf, yT, yf) {
    const L = colLeft[c], T = rowTop[r];
    add(g, 'rect', {x: L, y: T, width: colW, height: rowH, fill: '#ebeced'}, 'panel-background');
    const ds = a => a[1] - a[0];
    const lines = (ticks, f, vertical) => {
      const step = ds(ticks), lo = ticks[0] - step * 2, hi = ticks[ticks.length - 1] + step * 2;
      let maj = '', min = '';
      for (let k = 0; lo + k * step / 2 <= hi; k++) {
        const v = lo + k * step / 2, p = f(v);
        const seg = vertical ? (p > L && p < L + colW ? 'M' + p.toFixed(1) + ' ' + T + 'v' + rowH : '') : (p > T && p < T + rowH ? 'M' + L + ' ' + p.toFixed(1) + 'h' + colW : '');
        if (k % 2 === 0) maj += seg; else min += seg;
      }
      if (min) add(g, 'path', {d: min, stroke: '#fff', 'stroke-width': 1.3, fill: 'none'}, 'minor-gridlines');
      if (maj) add(g, 'path', {d: maj, stroke: '#fff', 'stroke-width': 2.6, fill: 'none'}, 'major-gridlines');
    };
    lines(xT, xf, true);
    lines(yT, yf, false);
  }

  for (let r = 0; r < 6; r++) {
    for (let c = 0; c < 6; c++) {
      const g = add(root, 'g', {}, 'panel-' + varNames[r].toLowerCase() + '-vs-' + varNames[c].toLowerCase());
      if (c > r) {
        add(g, 'rect', {x: colLeft[c] + 1.7, y: rowTop[r] + 1.7, width: colW - 3.4, height: rowH - 3.4, fill: '#fff', stroke: '#ebebeb', 'stroke-width': 3.4}, 'correlation-cell');
        const cx = colLeft[c] + colW / 2 + 3;
        addText(g, {x: cx, y: rowTop[r] + 84, 'font-size': 21, fill: '#6a6a6a', 'text-anchor': 'middle'}, 'Corr:', 'correlation-label');
        addText(g, {x: cx, y: rowTop[r] + 112, 'font-size': 21, fill: '#6a6a6a', 'text-anchor': 'middle'}, corr[r][c], 'correlation-value');
      } else if (c === r) {
        const D = dens[r];
        grid(g, c, r, xTicks[c], xs[c], D.t, D.f);
        const pts = D.x.map((v, i) => [xs[c](v), D.f(D.y[i])]);
        add(g, 'path', {d: smooth(pts), fill: 'none', stroke: '#000', 'stroke-width': 3.4}, 'density-curve');
      } else {
        grid(g, c, r, xTicks[c], xs[c], yTicks[r], ys[r]);
        const sx = series[c], sy = series[r], fx = xs[c], fy = ys[r];
        sx.forEach((v, i) => {
          add(g, 'circle', {cx: fx(v).toFixed(1), cy: fy(sy[i]).toFixed(1), r: 4.8, fill: '#000'}, 'sample-point');
        });
      }
    }
    add(root, 'rect', {x: 1904.5, y: rowTop[r], width: 29.5, height: rowH, fill: '#d9d9d9'}, 'row-strip');
    addText(root, {transform: 'translate(1910,' + (rowTop[r] + rowH / 2 + 1) + ') rotate(90)', 'font-size': 23, fill: '#1a1a1a', 'text-anchor': 'middle'}, varNames[r], 'row-strip-label');
  }
  varNames.forEach((n, c) => {
    add(root, 'rect', {x: colLeft[c], y: 37, width: colW, height: 29.5, fill: '#d9d9d9'}, 'column-strip');
    addText(root, {x: colLeft[c] + colW / 2 + stripShift[c], y: 65.5, 'font-size': 23, fill: '#1a1a1a', 'text-anchor': 'middle'}, n, 'column-strip-label');
  });
  /* left axis */
  const densY = dens[0].f;
  densityTicks.forEach((t, i) => {
    add(root, 'line', {x1: 789, x2: 793.6, y1: densY(t), y2: densY(t), stroke: '#333', 'stroke-width': 2.6}, 'y-tick');
    addText(root, {x: 780, y: densY(t) + 10, 'font-size': 27.5, fill: '#4d4d4d', 'text-anchor': 'end'}, densityTickLabels[i], 'y-tick-label');
  });
  for (let r = 1; r < 6; r++) {
    yTicks[r].forEach(t => {
      const p = ys[r](t);
      add(root, 'line', {x1: 789, x2: 793.6, y1: p, y2: p, stroke: '#333', 'stroke-width': 2.6}, 'y-tick');
      addText(root, {x: 780, y: p + 10, 'font-size': 27.5, fill: '#4d4d4d', 'text-anchor': 'end'}, String(t).replace('-', '−'), 'y-tick-label');
    });
  }
  /* bottom axis */
  for (let c = 0; c < 6; c++) {
    xTicks[c].forEach(t => {
      const p = xs[c](t);
      add(root, 'line', {x1: p, x2: p, y1: 1207, y2: 1211.5, stroke: '#333', 'stroke-width': 2.6}, 'x-tick');
      addText(root, {transform: 'translate(' + (p - 4).toFixed(1) + ',1229) rotate(55)', 'font-size': 26.5, fill: '#4d4d4d'}, String(t).replace('-', '−'), 'x-tick-label');
    });
  }
})();

/* ---------- Violins ---------- */
(function () {
  const root = document.getElementById('panelD');
  const y = lin(0, 1675.6, 7.5, 1368.7), x = i => 210.5 + 158.2 * i;
  const valuesBy = [c1Values, c2Values, c3Values, c4Values, c6Values];
  const densBy = [c1Density, c2Density, c3Density, c4Density, c6Density];
  const outliersBy = [c1Outliers, c2Outliers, c3Outliers, c4Outliers, c6Outliers];
  const fills = ['#d2847b', '#70b1d5', '#e3b277', '#85c29a', '#aeaed6'];
  const boxFills = ['#c5594d', '#4c95c8', '#d78f3c', '#519f6f', '#8b8cc0'];
  subtypeNames.forEach((n, i) => {
    const cx = x(i), vs = valuesBy[i], ds = densBy[i];
    const rightPts = vs.map((v, k) => [cx + ds[k], y(v)]);
    const leftPts = vs.map((v, k) => [cx - ds[k], y(v)]).reverse();
    const d = smooth(rightPts) + 'L' + smooth(leftPts).slice(1) + 'Z';
    add(root, 'path', {d: d, fill: fills[i], stroke: '#222', 'stroke-width': 1.2}, 'violin-' + n);
    add(root, 'line', {x1: cx, x2: cx, y1: y(whiskerHigh[i]), y2: y(whiskerLow[i]), stroke: '#222', 'stroke-width': 1.4}, 'whisker-' + n);
    add(root, 'rect', {x: cx - 8, y: y(boxQ3[i]), width: 16, height: y(boxQ1[i]) - y(boxQ3[i]), fill: boxFills[i], stroke: '#333', 'stroke-width': 1.6}, 'box-' + n);
    add(root, 'line', {x1: cx - 8, x2: cx + 8, y1: y(boxMedian[i]), y2: y(boxMedian[i]), stroke: '#222', 'stroke-width': 2}, 'median-' + n);
    outliersBy[i].forEach(v => {
      add(root, 'circle', {cx: cx, cy: y(v), r: 3, fill: '#888', 'fill-opacity': .75}, 'outlier-' + n);
    });
    add(root, 'line', {x1: cx, x2: cx, y1: 1866, y2: 1870, stroke: '#333', 'stroke-width': 1.5}, 'x-tick-' + n);
  });
  expressionTicks.forEach((t, i) => {
    add(root, 'line', {x1: 112, x2: 116, y1: y(t), y2: y(t), stroke: '#333', 'stroke-width': 1.5}, 'y-tick');
    addText(root, {x: 111, y: y(t) + 9, 'font-size': 28, fill: '#4d4d4d', 'text-anchor': 'end'}, expressionTickLabels[i], 'y-tick-label');
  });
  add(root, 'path', {d: 'M116 1342V1866H937.5', fill: 'none', stroke: '#222', 'stroke-width': 2}, 'axis-lines');
})();

/* ---------- Split violins ---------- */
(function () {
  const root = document.getElementById('panelE');
  const y = lin(3, 1844.6, 9, 1502), x = i => 1202.8 + 185 * i;
  const highs = [g1High, g2High, g3High, g4High], lows = [g1Low, g2Low, g3Low, g4Low];
  const half = (islands, cx, side, color, name) => {
    islands.forEach(s => {
      const pts = s.v.map((v, k) => [cx + side * s.d[k], y(v)]);
      const d = smooth(pts) + 'L' + cx.toFixed(1) + ' ' + y(s.v[s.v.length - 1]).toFixed(1) + 'L' + cx.toFixed(1) + ' ' + y(s.v[0]).toFixed(1) + 'Z';
      add(root, 'path', {d: d, fill: color, stroke: '#fff', 'stroke-width': .5}, name);
    });
  };
  highs.forEach((h, i) => {
    half(h, x(i) - .4, -1, '#bc3c2d', 'violin-high-group-' + (i + 1));
    half(lows[i], x(i) + .4, 1, '#3b7db9', 'violin-low-group-' + (i + 1));
    add(root, 'circle', {cx: x(i) - 23, cy: y(ipsMeanHigh[i]), r: 5.6, fill: '#000'}, 'mean-high-group-' + (i + 1));
    add(root, 'circle', {cx: x(i) + 23, cy: y(ipsMeanLow[i]), r: 5.6, fill: '#000'}, 'mean-low-group-' + (i + 1));
    add(root, 'line', {x1: x(i), x2: x(i), y1: 1867, y2: 1871, stroke: '#333', 'stroke-width': 1.5}, 'x-tick-group-' + (i + 1));
  });
  ipsTicks.forEach(t => {
    add(root, 'line', {x1: 1088.5, x2: 1092.5, y1: y(t), y2: y(t), stroke: '#333', 'stroke-width': 1.5}, 'y-tick');
    addText(root, {x: 1080, y: y(t) + 8, 'font-size': 28, fill: '#4d4d4d', 'text-anchor': 'end'}, String(t), 'y-tick-label');
  });
  add(root, 'path', {d: 'M1092.5 1365V1867H1868.6', fill: 'none', stroke: '#222', 'stroke-width': 2}, 'axis-lines');
})();
</script>
</body>
</html>
